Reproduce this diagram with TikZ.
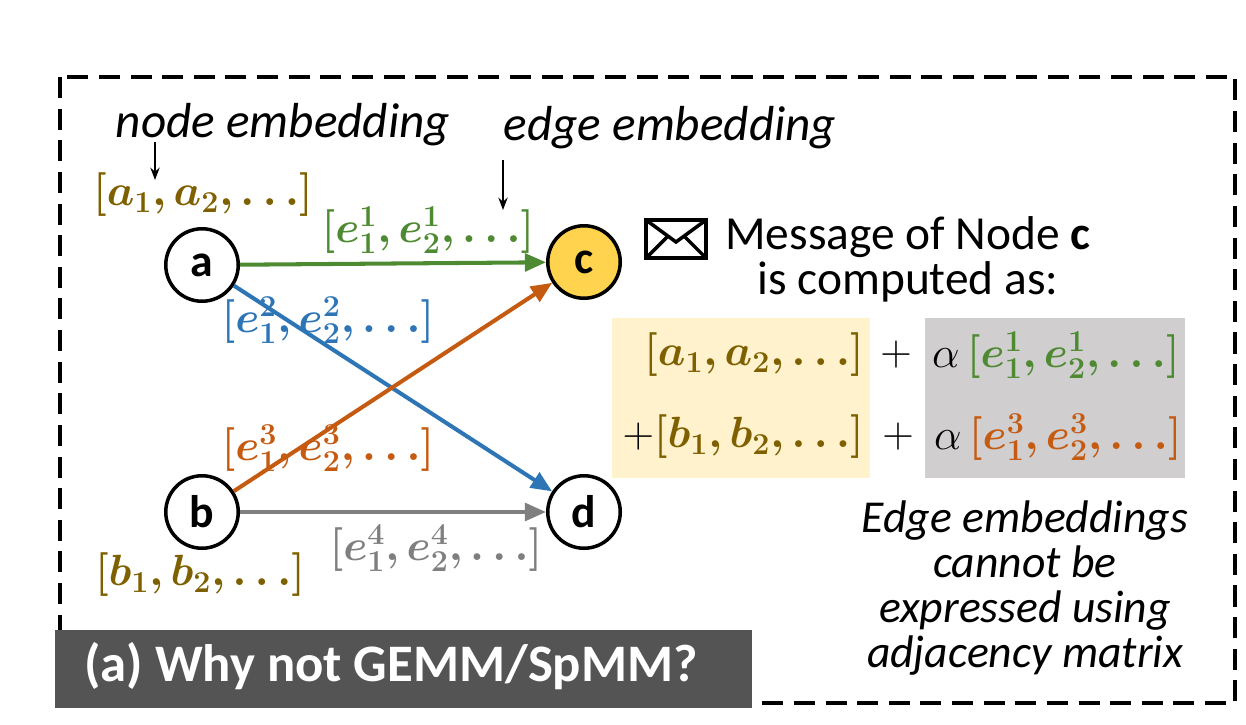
\documentclass[tikz,border=0pt]{standalone}
\usepackage{fontspec}
\usepackage{amsmath,bm}
\setmainfont{Carlito}
\usetikzlibrary{arrows.meta}
\definecolor{olive}{HTML}{7F6000}
\definecolor{eg}{HTML}{4E8A32}
\definecolor{eb}{HTML}{2E75B6}
\definecolor{eo}{HTML}{C55A11}
\definecolor{egr}{HTML}{7F7F7F}
\definecolor{cyel}{HTML}{FFD34D}
\definecolor{byel}{HTML}{FFF2CC}
\definecolor{bgray}{HTML}{D0CECE}
\begin{document}
\begin{tikzpicture}[x=0.02cm,y=-0.02cm,
  gnode/.style={circle,draw=black,line width=2pt,minimum size=1.45cm,inner sep=0pt,font=\fontsize{26}{28}\selectfont\bfseries},
  edge/.style={line width=2.3pt,-{Triangle[length=12pt,width=10pt]}},
  lab/.style={inner sep=1pt,font=\fontsize{23}{25}\selectfont},
  itxt/.style={font=\fontsize{28}{32}\selectfont\itshape,inner sep=0pt},
  note/.style={line width=1.2pt,-{Stealth[length=7pt]}}]
\useasboundingbox (0,0) rectangle (1246,724);
\draw[line width=2.3pt,dash pattern=on 12pt off 6pt] (60,77) rectangle (1235,703);
% nodes
\node[gnode] (a) at (202,265) {a};
\node[gnode,fill=cyel] (c) at (584,262) {c};
\node[gnode] (b) at (202,512) {b};
\node[gnode] (d) at (584,512) {d};
\draw[edge,eg] (a) -- (c);
\draw[edge,eb] (a) -- (d);
\draw[edge,eo] (b) -- (c);
\draw[edge,egr] (b) -- (d);
% labels
\node[itxt] (ne) at (283,125) {node embedding};
\node[lab,olive] (al) at (203,195) {$\bm{[a_1,a_2,\ldots]}$};
\coordinate (ne1) at (155,142);
\coordinate (ne2) at (155,180);
\draw[note] (ne1) -- (ne2);
\node[itxt] (ee) at (670,128) {edge embedding};
\coordinate (ee1) at (503,160);
\coordinate (ee2) at (503,210);
\draw[note] (ee1) -- (ee2);
\node[lab,eg] at (428,230) {$\bm{[e_1^1,e_2^1,\ldots]}$};
\node[lab,eb] at (328,320) {$\bm{[e_1^2,e_2^2,\ldots]}$};
\node[lab,eo] at (328,448) {$\bm{[e_1^3,e_2^3,\ldots]}$};
\node[lab,egr] at (436,548) {$\bm{[e_1^4,e_2^4,\ldots]}$};
\node[lab,olive] at (200,575) {$\bm{[b_1,b_2,\ldots]}$};
% envelope
\draw[line width=2.5pt] (646,220) rectangle (706,258);
\draw[line width=2pt] (646,220) -- (676,242) -- (706,220);
\draw[line width=2pt] (646,258) -- (668,236);
\draw[line width=2pt] (706,258) -- (684,236);
\node[font=\fontsize{27}{30}\selectfont,inner sep=0pt] at (908,237) {Message of Node \textbf{c}};
\node[font=\fontsize{27}{30}\selectfont,inner sep=0pt] at (908,282) {is computed as:};
% formula boxes
\fill[byel] (612,318) rectangle (870,478);
\fill[bgray] (925,318) rectangle (1185,478);
\node[lab,olive,anchor=east] at (866,355) {$\bm{[a_1,a_2,\ldots]}$};
\node[lab] at (896,355) {$+$};
\node[lab,anchor=west] at (930,355) {$\alpha\,$\textcolor{eg}{$\bm{[e_1^1,e_2^1,\ldots]}$}};
\node[lab,anchor=east] at (866,437) {$+$\textcolor{olive}{$\bm{[b_1,b_2,\ldots]}$}};
\node[lab] at (898,437) {$+$};
\node[lab,anchor=west] at (932,437) {$\alpha\,$\textcolor{eo}{$\bm{[e_1^3,e_2^3,\ldots]}$}};
% note
\node[itxt,align=center,font=\fontsize{26}{25.5}\selectfont\itshape] at (1025,588) {Edge embeddings\\cannot be\\expressed using\\adjacency matrix};
% caption
\fill[black!67] (55,630) rectangle (752,708);
\node[white,font=\fontsize{30}{34}\selectfont\bfseries,anchor=west] at (78,666) {(a) Why not GEMM/SpMM?};
\end{tikzpicture}
\end{document}
